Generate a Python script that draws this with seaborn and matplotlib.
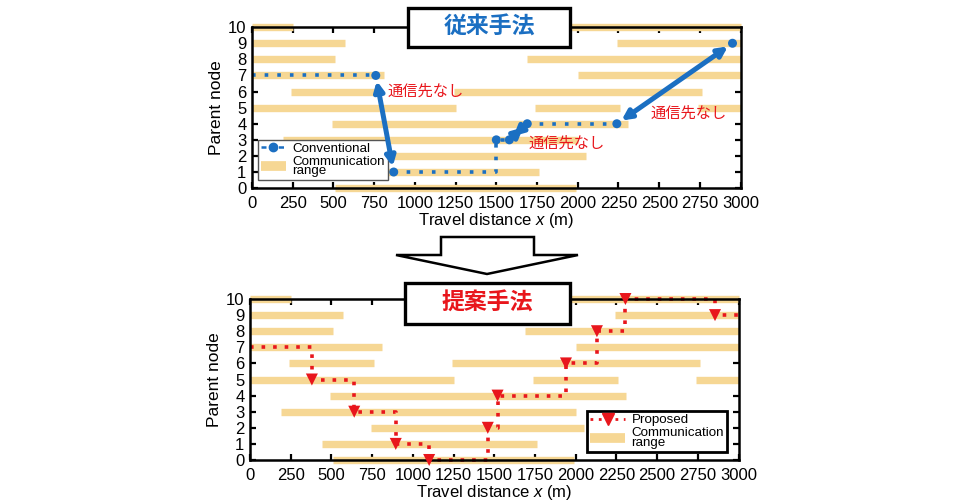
import numpy as np
import matplotlib.pyplot as plt
from matplotlib.lines import Line2D
from matplotlib.patches import Rectangle, Polygon
import seaborn as sns

# communication range of every parent node (m)
range_node = [10, 10, 9, 9, 8, 8, 7, 7, 6, 6, 5, 5, 5, 4, 3, 2, 1, 0]
range_start = [0, 1900, 0, 2240, 0, 1690, 0, 2000, 240, 1240, 0, 1740, 2740, 490, 190, 740, 440, 510]
range_end = [250, 3000, 570, 3000, 510, 3000, 810, 3000, 760, 2760, 1250, 2260, 3000, 2310, 2000, 2050, 1760, 1990]

# conventional method: connected parent node along the route
conv_x = [0, 760, 870, 1500, 1580, 1690, 2240, 2950]
conv_y = [7, 7, 1, 3, 3, 4, 4, 9]
conv_lost = [False, True, False, False, True, False, True]  # no communication target on this hop

# proposed method
prop_x = [0, 380, 640, 895, 1100, 1460, 1520, 1940, 2130, 2305, 2855, 3000]
prop_y = [7, 5, 3, 1, 0, 2, 4, 6, 8, 10, 9, 9]

xticks = np.arange(0, 3001, 250)
yticks = np.arange(0, 11)

BLUE = '#1b6fc2'
RED = '#e8161c'
TAN = '#f6d794'
LOST_LABEL = '通信先なし'

sns.set_theme(style='ticks', rc={'axes.edgecolor': 'black', 'text.color': 'black',
                                 'axes.labelcolor': 'black', 'xtick.color': 'black',
                                 'ytick.color': 'black'})
plt.rcParams['font.family'] = ['Liberation Sans', 'Noto Sans CJK JP']
plt.rcParams['mathtext.fontset'] = 'custom'
plt.rcParams['mathtext.it'] = 'Liberation Sans:italic'
plt.rcParams['mathtext.rm'] = 'Liberation Sans'


def step_segments(xs, ys, keep):
    """Horizontal-then-vertical path for the kept hops, NaN between pieces."""
    px, py = [], []
    for i in range(len(xs) - 1):
        if not keep[i]:
            px.append(np.nan)
            py.append(np.nan)
            continue
        px += [xs[i], xs[i + 1], xs[i + 1]]
        py += [ys[i], ys[i], ys[i + 1]]
    return np.array(px, dtype=float), np.array(py, dtype=float)


def setup_axes(ax):
    ax.hlines(range_node, range_start, range_end, colors=TAN, lw=5.3, clip_on=False, zorder=1)
    ax.set_xlim(0, 3000)
    ax.set_ylim(0, 10)
    ax.set_xticks(xticks)
    ax.set_yticks(yticks)
    ax.tick_params(direction='in', length=4, width=1.6, top=True, right=True,
                   labelsize=12, pad=4)
    ax.tick_params(axis='x', pad=6)
    for s in ax.spines.values():
        s.set_linewidth(1.8)
        s.set_zorder(4)
    ax.set_xlabel('Travel distance $x$ (m)', fontsize=12, labelpad=0)
    ax.set_ylabel('Parent node', fontsize=12.5, labelpad=3)


def legend_box(ax, handles, labels, edge, lw, **kw):
    leg = ax.legend(handles, labels, borderaxespad=0, fontsize=9.6, frameon=True,
                    fancybox=False, framealpha=1, edgecolor=edge, handletextpad=0.5,
                    labelspacing=0.05, **kw)
    leg.get_frame().set_linewidth(lw)
    for t in leg.get_texts():
        t.set_linespacing(0.75)
    leg.set_zorder(7)
    return leg


fig = plt.figure(figsize=(9.6, 5.03), dpi=100)
ax1 = fig.add_axes([0.2625, 0.626, 0.509, 0.320])
ax2 = fig.add_axes([0.2604, 0.0855, 0.509, 0.320])

# ---- conventional ----
setup_axes(ax1)
lx, ly = step_segments(conv_x, conv_y, [not l for l in conv_lost])
ax1.plot(lx, ly, color=BLUE, lw=2.6, ls=(0, (1, 2.5)), zorder=3)
sns.scatterplot(x=conv_x[1:], y=conv_y[1:], ax=ax1, color=BLUE, s=42,
                edgecolor='none', zorder=5, clip_on=False, legend=False)
for i, lost in enumerate(conv_lost):
    if lost:
        ax1.annotate('', xy=(conv_x[i + 1], conv_y[i + 1]), xytext=(conv_x[i], conv_y[i]),
                     arrowprops=dict(arrowstyle='<|-|>', color=BLUE, lw=3.6,
                                     mutation_scale=14, shrinkA=4, shrinkB=4), zorder=8)
ax1.text(835, 6.0, LOST_LABEL, color=RED, fontsize=11, va='center', zorder=6)
ax1.text(1695, 2.8, LOST_LABEL, color=RED, fontsize=11, va='center', zorder=6)
ax1.text(2445, 4.65, LOST_LABEL, color=RED, fontsize=11, va='center', zorder=6)

h_conv = Line2D([], [], color=BLUE, lw=1.8, ls=(0, (2, 1.5)), marker='o', ms=6)
h_range = Line2D([], [], color=TAN, lw=7, solid_capstyle='butt')
legend_box(ax1, [h_conv, h_range], ['Conventional', 'Communication\nrange'],
           '#555555', 1.0, loc='lower left', bbox_to_anchor=(0.012, 0.05),
           handlelength=1.9, borderpad=0.2)

# ---- proposed ----
setup_axes(ax2)
lx, ly = step_segments(prop_x, prop_y, [True] * (len(prop_x) - 1))
ax2.plot(lx, ly, color=RED, lw=2.6, ls=(0, (1, 2.2)), zorder=3, clip_on=False)
sns.scatterplot(x=prop_x[1:-1], y=prop_y[1:-1], ax=ax2, color=RED, marker='v', s=75,
                edgecolor='none', zorder=5, clip_on=False, legend=False)

h_prop = Line2D([], [], color=RED, lw=2, ls=(0, (1, 2)), marker='v', ms=8)
legend_box(ax2, [h_prop, h_range], ['Proposed', 'Communication\nrange'],
           'black', 2.0, loc='lower right', bbox_to_anchor=(0.977, 0.05),
           handlelength=2.6, borderpad=0.25)

# ---- title boxes ----
for (x0, y0, w, h), label, col in [((0.425, 0.9066, 0.169, 0.0775), '従来手法', BLUE),
                                   ((0.422, 0.356, 0.172, 0.0815), '提案手法', RED)]:
    fig.patches.append(Rectangle((x0, y0), w, h, transform=fig.transFigure,
                                 facecolor='white', edgecolor='black', lw=2.4, zorder=8))
    fig.text(x0 + w / 2, y0 + h / 2, label, color=col, fontsize=16.5, fontweight='bold',
             ha='center', va='center', zorder=9)

# ---- hollow down arrow between the panels ----
arrow_px = [(441, 237), (534, 237), (534, 255), (578, 255), (487, 274), (396, 255), (441, 255)]
fig.patches.append(Polygon([(px / 960, 1 - py / 503) for px, py in arrow_px], closed=True,
                           transform=fig.transFigure, facecolor='white',
                           edgecolor='black', lw=1.8, zorder=8))

fig.savefig('out.png', dpi=100)
